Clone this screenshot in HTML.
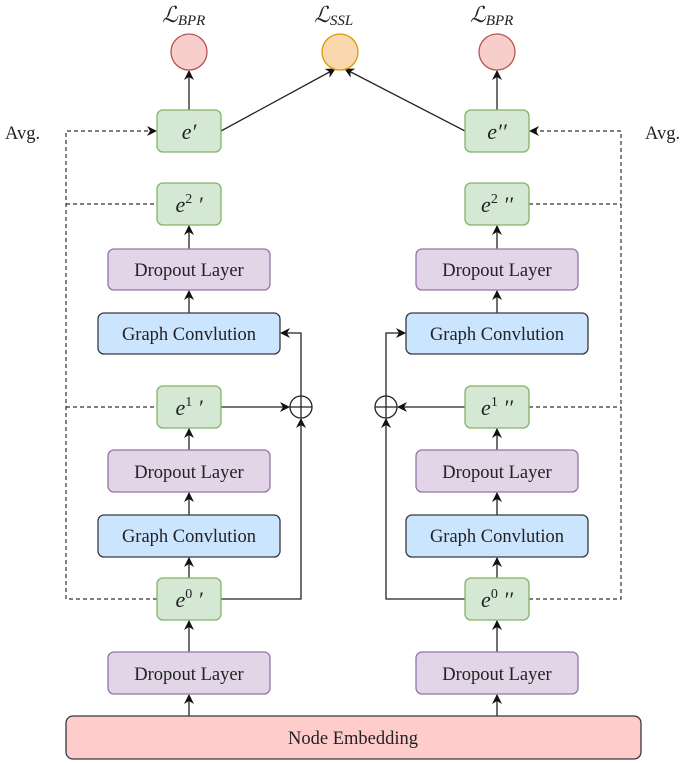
<!DOCTYPE html>
<html><head><meta charset="utf-8"><style>
html,body{margin:0;padding:0;background:#fff;}
svg{display:block;}
text{font-family:"Liberation Serif",serif;fill:#222;}
.m{font-style:italic;font-size:22px;}
.l{font-size:18.5px;}
</style></head><body>
<svg width="685" height="764" viewBox="0 0 685 764" xmlns="http://www.w3.org/2000/svg">
<defs>
<marker id="a" markerWidth="10" markerHeight="10" refX="9" refY="5" orient="auto" markerUnits="userSpaceOnUse">
<path d="M0,0 L10,5 L0,10 L3,5 Z" fill="#111"/></marker>
</defs>
<g stroke="#222" stroke-width="1.3" fill="none">
<line x1="189" y1="110" x2="189" y2="71" marker-end="url(#a)"/>
<line x1="189" y1="249" x2="189" y2="226" marker-end="url(#a)"/>
<line x1="189" y1="313" x2="189" y2="291" marker-end="url(#a)"/>
<line x1="189" y1="450" x2="189" y2="429" marker-end="url(#a)"/>
<line x1="189" y1="515" x2="189" y2="493" marker-end="url(#a)"/>
<line x1="189" y1="578" x2="189" y2="558" marker-end="url(#a)"/>
<line x1="189" y1="652" x2="189" y2="621" marker-end="url(#a)"/>
<line x1="189" y1="716" x2="189" y2="695" marker-end="url(#a)"/>
<line x1="497" y1="110" x2="497" y2="71" marker-end="url(#a)"/>
<line x1="497" y1="249" x2="497" y2="226" marker-end="url(#a)"/>
<line x1="497" y1="313" x2="497" y2="291" marker-end="url(#a)"/>
<line x1="497" y1="450" x2="497" y2="429" marker-end="url(#a)"/>
<line x1="497" y1="515" x2="497" y2="493" marker-end="url(#a)"/>
<line x1="497" y1="578" x2="497" y2="558" marker-end="url(#a)"/>
<line x1="497" y1="652" x2="497" y2="621" marker-end="url(#a)"/>
<line x1="497" y1="716" x2="497" y2="695" marker-end="url(#a)"/>
<line x1="221" y1="131" x2="335" y2="69" marker-end="url(#a)"/>
<line x1="465" y1="131" x2="345" y2="69" marker-end="url(#a)"/>
<polyline points="221,599 301,599 301,419" marker-end="url(#a)"/>
<polyline points="301,396 301,333 281,333" marker-end="url(#a)"/>
<line x1="221" y1="407" x2="289" y2="407" marker-end="url(#a)"/>
<polyline points="465,599 386,599 386,419" marker-end="url(#a)"/>
<polyline points="386,396 386,333 405,333" marker-end="url(#a)"/>
<line x1="465" y1="407" x2="398" y2="407" marker-end="url(#a)"/>
</g>
<g stroke="#333" stroke-width="1.2" fill="none" stroke-dasharray="4,3">
<polyline points="157,599 66,599 66,131 156,131" marker-end="url(#a)"/>
<line x1="66" y1="204" x2="157" y2="204"/>
<line x1="66" y1="407" x2="157" y2="407"/>
<polyline points="529,599 621,599 621,131 530,131" marker-end="url(#a)"/>
<line x1="529" y1="204" x2="621" y2="204"/>
<line x1="529" y1="407" x2="621" y2="407"/>
</g>
<g stroke="#222" stroke-width="1.3" fill="#fff">
<circle cx="301" cy="407" r="11"/><line x1="290" y1="407" x2="312" y2="407"/><line x1="301" y1="396" x2="301" y2="418"/>
<circle cx="386" cy="407" r="11"/><line x1="375" y1="407" x2="397" y2="407"/><line x1="386" y1="396" x2="386" y2="418"/>
</g>
<circle cx="189" cy="52" r="18" fill="#f8cecc" stroke="#b85450" stroke-width="1.3"/>
<circle cx="340" cy="52" r="18" fill="#fad7ac" stroke="#d79b00" stroke-width="1.3"/>
<circle cx="497" cy="52" r="18" fill="#f8cecc" stroke="#b85450" stroke-width="1.3"/>
<text class="m" x="162" y="22" font-size="24">ℒ<tspan font-size="15" dy="3">BPR</tspan></text>
<text class="m" x="314" y="22" font-size="24">ℒ<tspan font-size="15" dy="3">SSL</tspan></text>
<text class="m" x="470" y="22" font-size="24">ℒ<tspan font-size="15" dy="3">BPR</tspan></text>
<g stroke-width="1.3">
<g fill="#d5e8d4" stroke="#82b366">
<rect x="157" y="110" width="64" height="42" rx="6"/>
<rect x="157" y="183" width="64" height="42" rx="6"/>
<rect x="157" y="386" width="64" height="42" rx="6"/>
<rect x="157" y="578" width="64" height="42" rx="6"/>
<rect x="465" y="110" width="64" height="42" rx="6"/>
<rect x="465" y="183" width="64" height="42" rx="6"/>
<rect x="465" y="386" width="64" height="42" rx="6"/>
<rect x="465" y="578" width="64" height="42" rx="6"/>
</g>
<g fill="#e1d5e7" stroke="#9673a6">
<rect x="108" y="249" width="162" height="41" rx="6"/>
<rect x="108" y="450" width="162" height="42" rx="6"/>
<rect x="108" y="652" width="162" height="42" rx="6"/>
<rect x="416" y="249" width="162" height="41" rx="6"/>
<rect x="416" y="450" width="162" height="42" rx="6"/>
<rect x="416" y="652" width="162" height="42" rx="6"/>
</g>
<g fill="#cce5ff" stroke="#36393d">
<rect x="98" y="313" width="182" height="41" rx="6"/>
<rect x="98" y="515" width="182" height="42" rx="6"/>
<rect x="406" y="313" width="182" height="41" rx="6"/>
<rect x="406" y="515" width="182" height="42" rx="6"/>
</g>
<rect x="66" y="716" width="575" height="43" rx="7" fill="#ffcccc" stroke="#36393d"/>
</g>
<g class="m" text-anchor="middle">
<text x="189" y="139">e′</text>
<text x="189" y="212">e<tspan font-size="14" dy="-9" font-style="normal">2</tspan><tspan dy="9"> ′</tspan></text>
<text x="189" y="415">e<tspan font-size="14" dy="-9" font-style="normal">1</tspan><tspan dy="9"> ′</tspan></text>
<text x="189" y="607">e<tspan font-size="14" dy="-9" font-style="normal">0</tspan><tspan dy="9"> ′</tspan></text>
<text x="497" y="139">e′′</text>
<text x="497" y="212">e<tspan font-size="14" dy="-9" font-style="normal">2</tspan><tspan dy="9"> ′′</tspan></text>
<text x="497" y="415">e<tspan font-size="14" dy="-9" font-style="normal">1</tspan><tspan dy="9"> ′′</tspan></text>
<text x="497" y="607">e<tspan font-size="14" dy="-9" font-style="normal">0</tspan><tspan dy="9"> ′′</tspan></text>
</g>
<g class="l" text-anchor="middle">
<text x="189" y="276">Dropout Layer</text>
<text x="189" y="478">Dropout Layer</text>
<text x="189" y="680">Dropout Layer</text>
<text x="497" y="276">Dropout Layer</text>
<text x="497" y="478">Dropout Layer</text>
<text x="497" y="680">Dropout Layer</text>
<text x="189" y="340">Graph Convlution</text>
<text x="189" y="542">Graph Convlution</text>
<text x="497" y="340">Graph Convlution</text>
<text x="497" y="542">Graph Convlution</text>
<text x="353" y="744">Node Embedding</text>
</g>
<text class="l" x="5" y="139">Avg.</text>
<text class="l" x="645" y="139">Avg.</text>
</svg>
</body></html>
